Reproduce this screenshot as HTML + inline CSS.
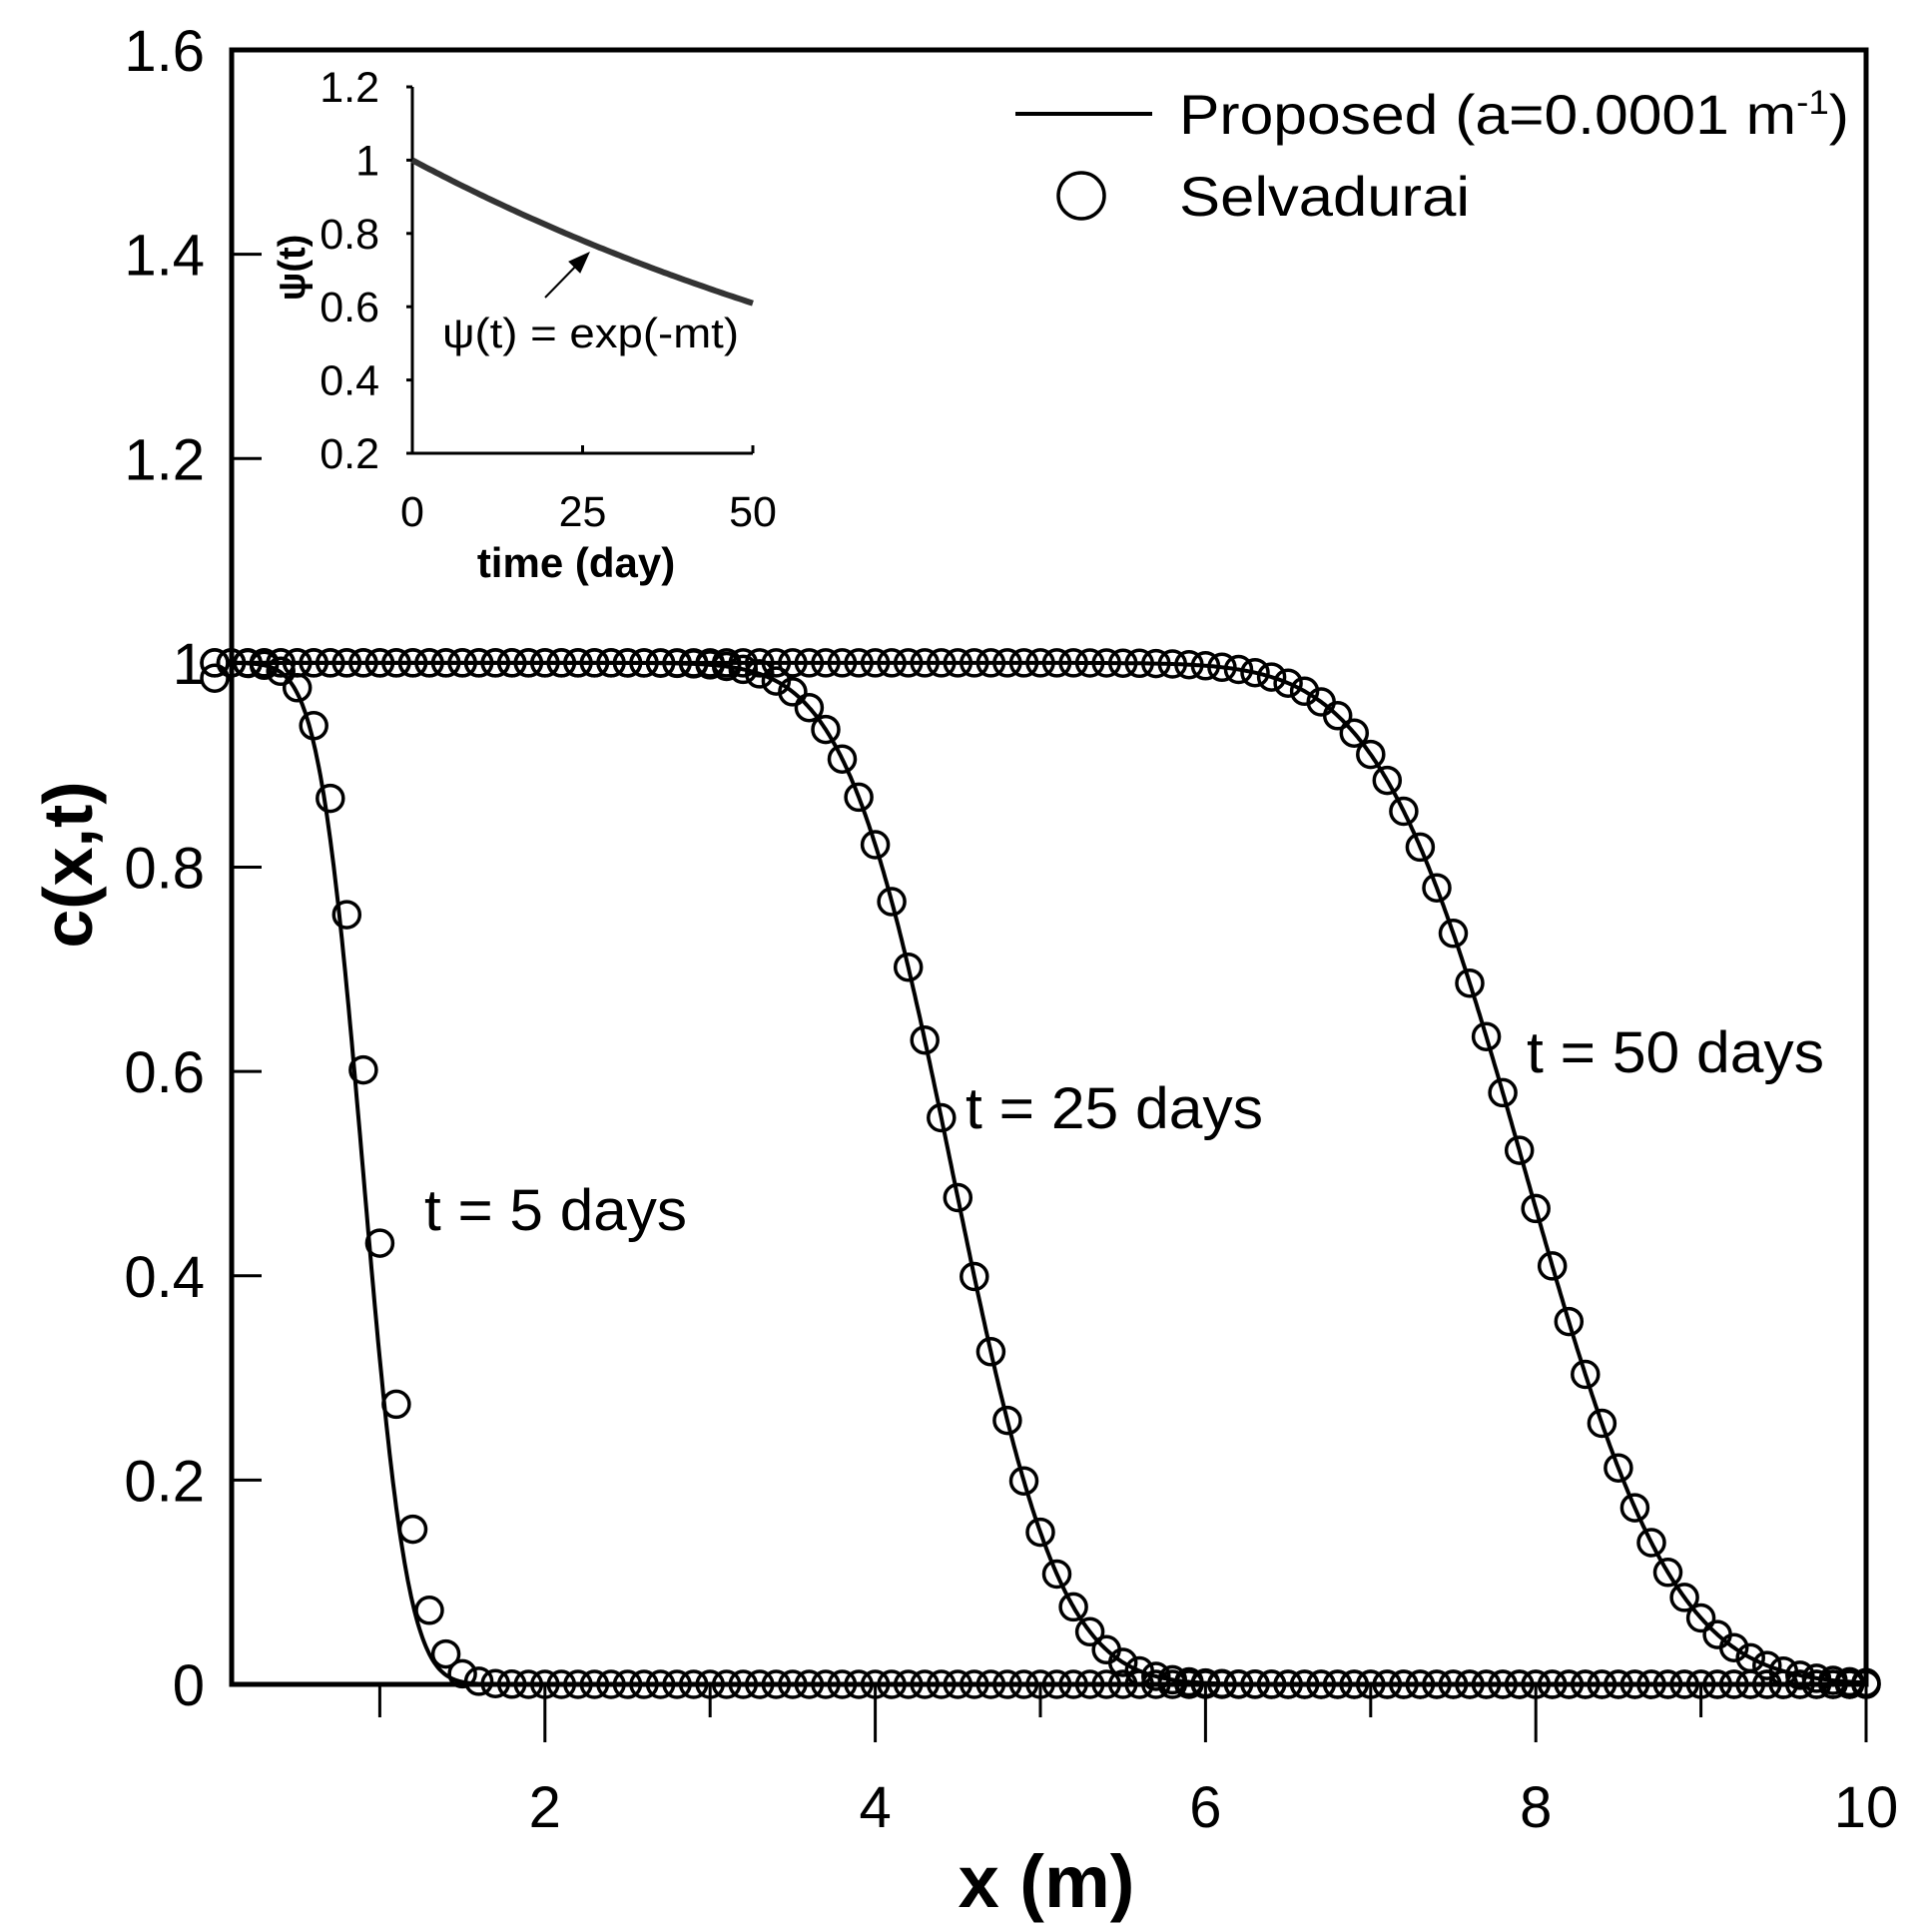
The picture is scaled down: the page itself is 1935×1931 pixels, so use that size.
<!DOCTYPE html>
<html><head><meta charset="utf-8"><style>
html,body{margin:0;padding:0;background:#fff}
svg{display:block}
text{font-family:"Liberation Sans",Arial,sans-serif;fill:#000}
</style></head><body>
<svg id="s" width="1935" height="1931" viewBox="0 0 1935 1931" xmlns="http://www.w3.org/2000/svg">
<g id="main" stroke="#000" fill="none"></g>
</svg>
<script>
var NS="http://www.w3.org/2000/svg";
var svg=document.getElementById('s'), g=document.getElementById('main');
function el(t,a,p,txt){var e=document.createElementNS(NS,t);for(var k in a)e.setAttribute(k,a[k]);if(txt!==undefined)e.textContent=txt;(p||svg).appendChild(e);return e;}
var B=1687;
var X=function(x){return 215+x*165.4}, Y=function(y){return B-y*1023.1};
function erfc(x){var z=Math.abs(x),t=1/(1+0.5*z);var r=t*Math.exp(-z*z-1.26551223+t*(1.00002368+t*(0.37409196+t*(0.09678418+t*(-0.18628806+t*(0.27886807+t*(-1.13520398+t*(1.48851587+t*(-0.82215223+t*0.17087277)))))))));return x>=0?r:2-r;}
function c(x,m,s){return 0.5*erfc((x-m)/s);}
el('path',{d:'M232,50 L1869,50 L1869,'+B+' L232,'+B+' Z','stroke-width':5},g);
var yl=['0','0.2','0.4','0.6','0.8','1','1.2','1.4','1.6'];
for(var i=0;i<=8;i++){var y=Y(i*0.2);if(i>0&&i<8)el('line',{x1:232,y1:y,x2:262,y2:y,'stroke-width':3},g);
el('text',{x:205,y:y+21,'font-size':58,'text-anchor':'end'},svg,yl[i]);}
for(var k=1;k<=10;k++){var x=X(k);var len=(k%2==0)?58:33;el('line',{x1:x,y1:B,x2:x,y2:B+len,'stroke-width':3},g);
if(k%2==0)el('text',{x:x,y:1830,'font-size':58,'text-anchor':'middle'},svg,String(k));}
el('text',{x:1048,y:1910,'font-size':74,'font-weight':'bold','text-anchor':'middle'},svg,'x (m)');
el('text',{x:0,y:0,'font-size':70,'font-weight':'bold','text-anchor':'middle',transform:'translate(92,866) rotate(-90)'},svg,'c(x,t)');
var P=[[0.90,0.30,0.96,0.33],[4.47,0.72,4.47,0.72],[7.94,0.99,7.94,0.99]];
var cl=document.createElementNS(NS,'clipPath');cl.id='cp';svg.appendChild(cl);el('rect',{x:232,y:50,width:1637,height:B-50},cl);
P.forEach(function(p){var d='';for(var x=0.1;x<=10.0001;x+=0.01){d+=(d?'L':'M')+X(x).toFixed(1)+','+Y(c(x,p[0],p[1])).toFixed(1);}
el('path',{d:d,'stroke-width':4,'clip-path':'url(#cp)'},g);});
P.forEach(function(p){for(var k=0;k<=100;k++){var x=k*0.1;var v=c(x,p[2],p[3]);if(k==0&&p[0]<1)v=0.985;
el('circle',{cx:X(x).toFixed(1),cy:Y(v).toFixed(1),r:13,'stroke-width':3.5},g);}});
el('text',{x:425,y:1232,'font-size':58,textLength:263,lengthAdjust:'spacingAndGlyphs'},svg,'t = 5 days');
el('text',{x:967,y:1130,'font-size':58,textLength:298,lengthAdjust:'spacingAndGlyphs'},svg,'t = 25 days');
el('text',{x:1529,y:1074,'font-size':58,textLength:298,lengthAdjust:'spacingAndGlyphs'},svg,'t = 50 days');
el('line',{x1:1017,y1:114,x2:1154,y2:114,'stroke-width':4},g);
var lt=el('text',{x:1181,y:134,'font-size':56,textLength:671,lengthAdjust:'spacingAndGlyphs'},svg,'');
lt.appendChild(document.createTextNode('Proposed (a=0.0001 m'));var ts=document.createElementNS(NS,'tspan');ts.setAttribute('dy',-20);ts.setAttribute('font-size',34);ts.textContent='-1';lt.appendChild(ts);
var ts2=document.createElementNS(NS,'tspan');ts2.setAttribute('dy',20);ts2.textContent=')';lt.appendChild(ts2);
el('circle',{cx:1083,cy:196,r:23,'stroke-width':3.5},g);
el('text',{x:1181,y:216,'font-size':56,textLength:291,lengthAdjust:'spacingAndGlyphs'},svg,'Selvadurai');
var IX=function(t){return 413+t*6.82}, IY=function(v){return 454-(v-0.2)*367};
el('path',{d:'M413,87 L413,454 L754,454','stroke-width':3},g);
var il=['0.2','0.4','0.6','0.8','1','1.2'];
for(var i=0;i<6;i++){var y=IY(0.2+i*0.2);el('line',{x1:407,y1:y,x2:413,y2:y,'stroke-width':3},g);
el('text',{x:380,y:y+15,'font-size':43,'text-anchor':'end'},svg,il[i]);}
[0,25,50].forEach(function(t){el('line',{x1:IX(t),y1:454,x2:IX(t),y2:446,'stroke-width':3},g);el('text',{x:IX(t),y:527,'font-size':43,'text-anchor':'middle'},svg,String(t));});
var d='';for(var t=0;t<=50;t+=0.5){d+=(d?'L':'M')+IX(t).toFixed(1)+','+IY(Math.exp(-0.0099*t)).toFixed(1);}
el('path',{d:d,'stroke-width':6,stroke:'#333'},g);
el('text',{x:577,y:578,'font-size':42,'font-weight':'bold','text-anchor':'middle'},svg,'time (day)');
el('text',{x:0,y:0,'font-size':38,'font-weight':'bold','text-anchor':'middle',transform:'translate(305,268) rotate(-90)'},svg,'ψ(t)');
el('line',{x1:546,y1:298,x2:585,y2:258,'stroke-width':2},g);
el('path',{d:'M590,253 L570,262 L581,273 Z',fill:'#000','stroke-width':1},g);
el('text',{x:443,y:348,'font-size':42,textLength:297,lengthAdjust:'spacingAndGlyphs'},svg,'ψ(t) = exp(-mt)');
</script>
</body></html>
